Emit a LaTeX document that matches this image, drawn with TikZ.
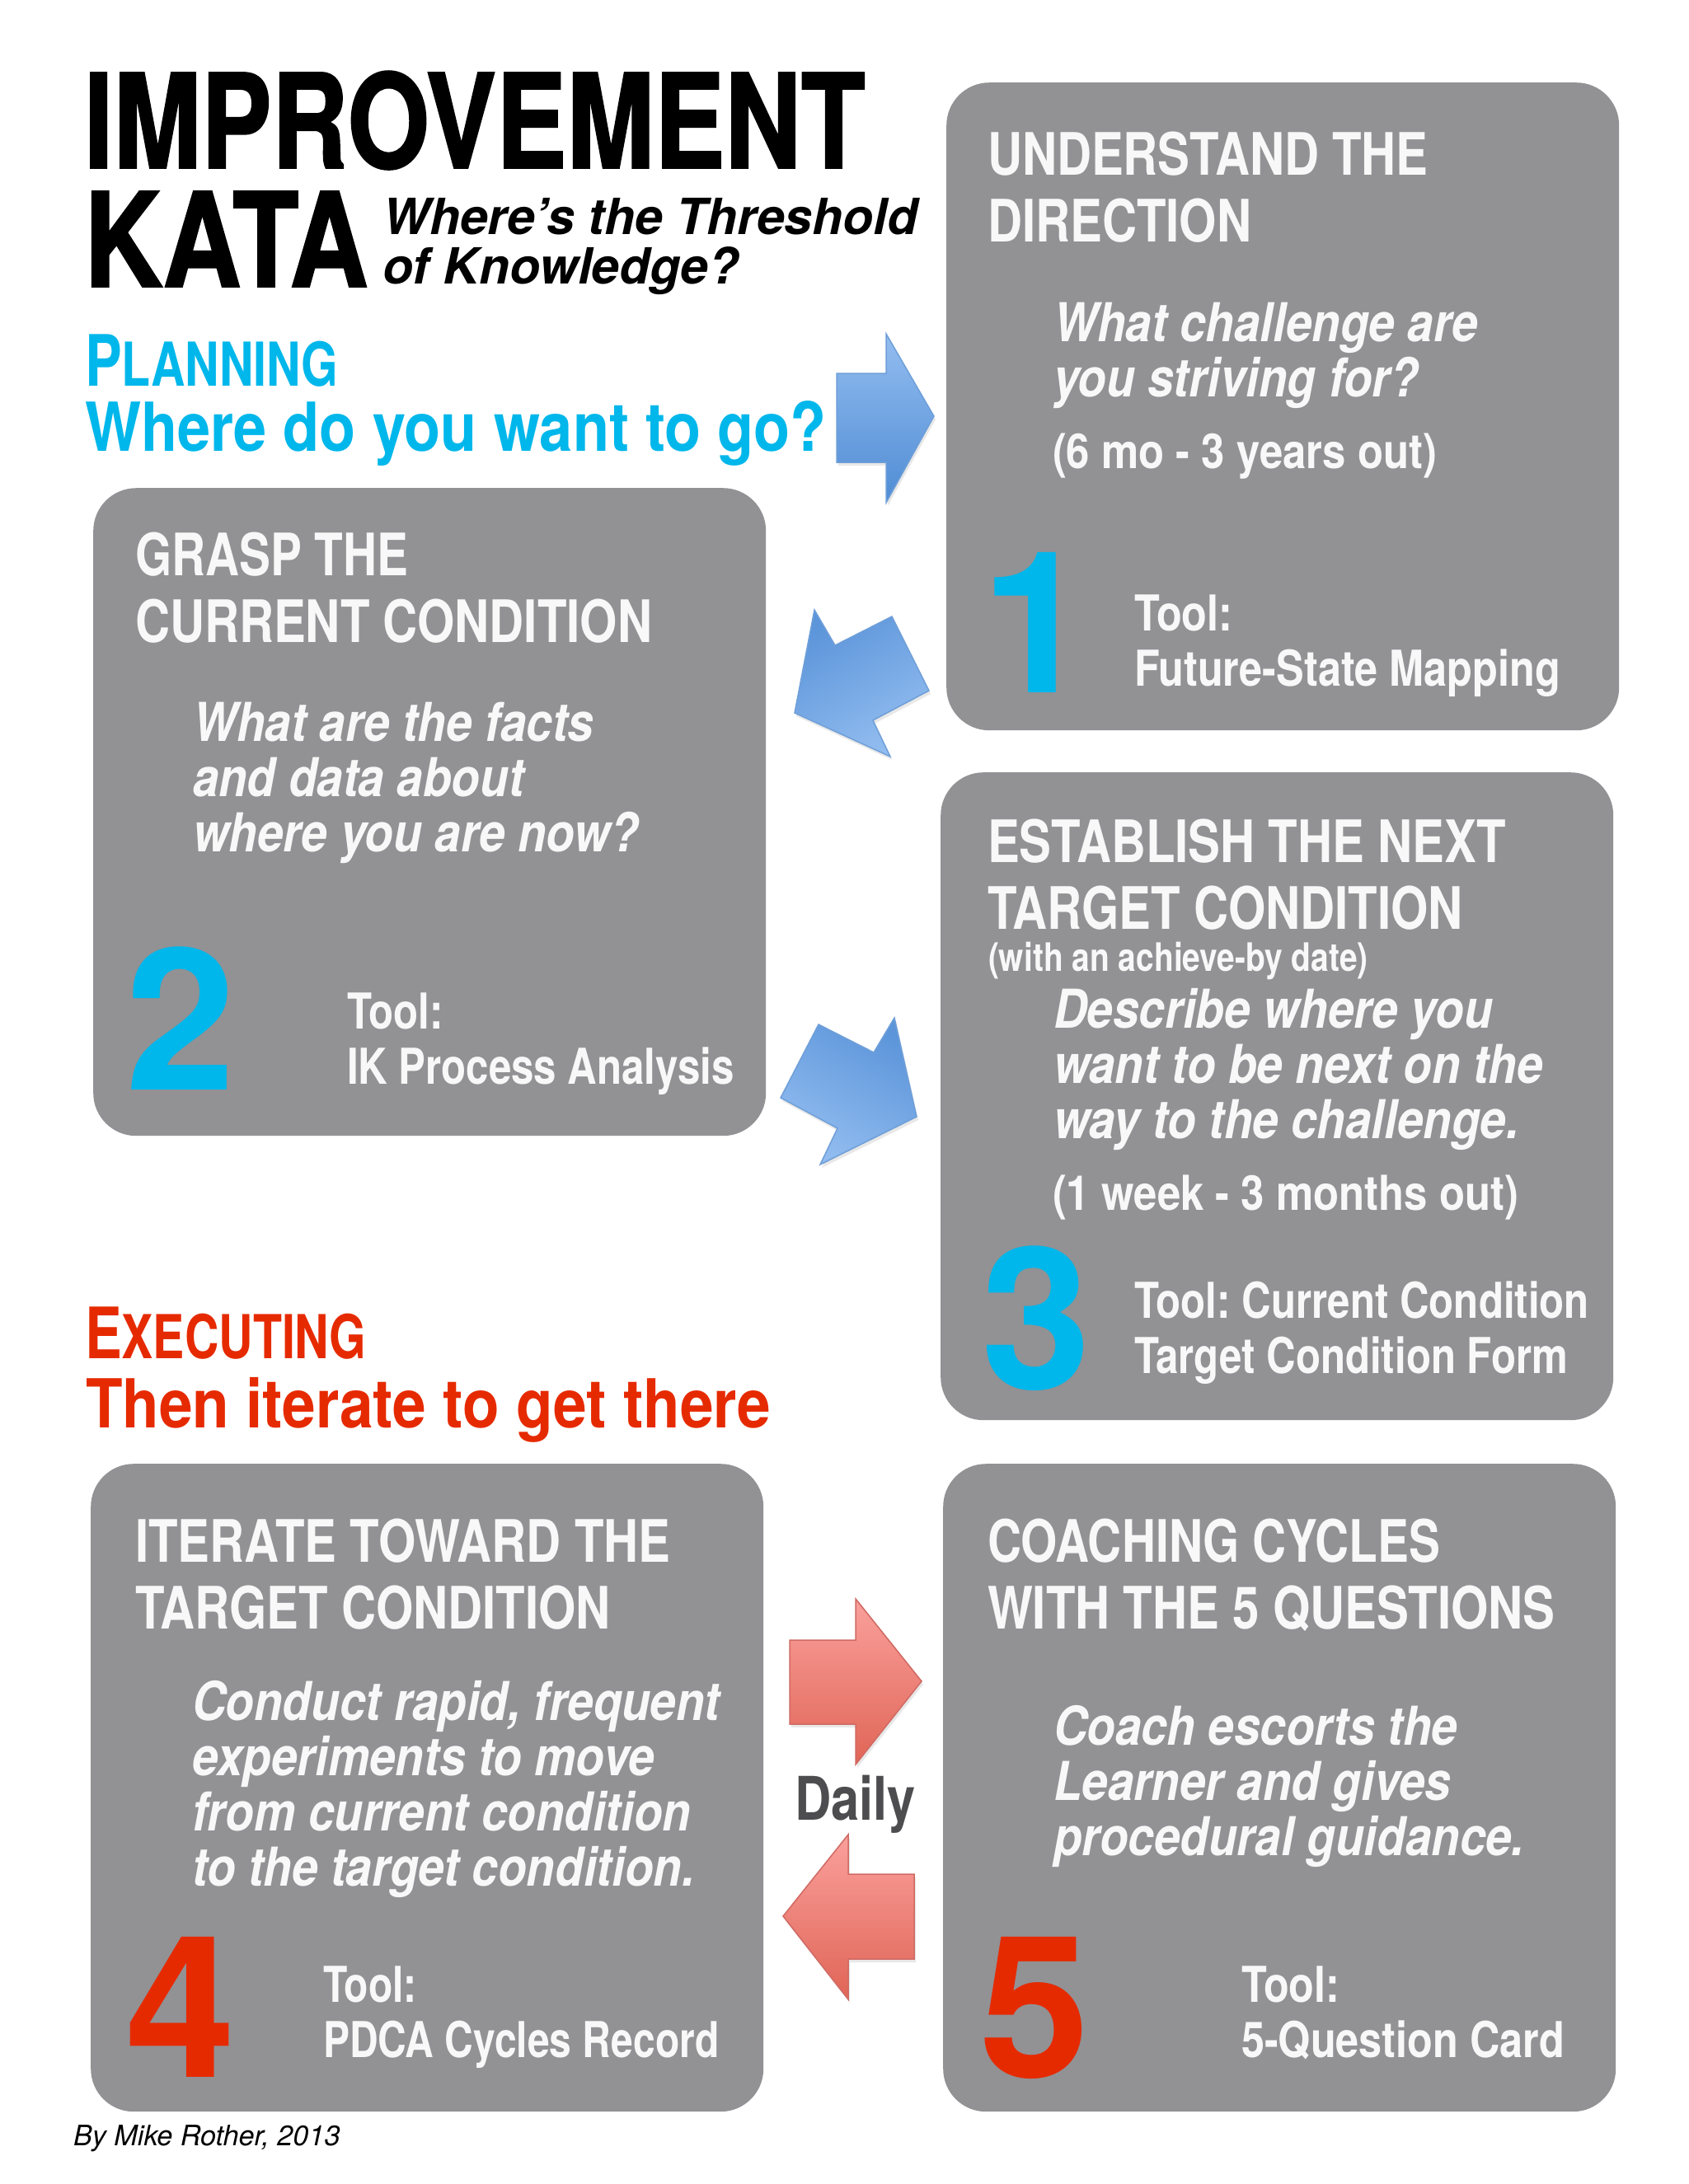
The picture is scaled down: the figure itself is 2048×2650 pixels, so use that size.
\documentclass[tikz,border=0pt]{standalone}
\usepackage{fontspec}
\usetikzlibrary{shadows}
\setmainfont{TeX Gyre Heros}
\newfontfamily\cnD[FakeStretch=0.78]{TeX Gyre Heros}
\newfontfamily\cnF[FakeStretch=0.80]{TeX Gyre Heros}
\newfontfamily\cnE[FakeStretch=0.82]{TeX Gyre Heros}
\newfontfamily\cnG[FakeStretch=0.84]{TeX Gyre Heros}
\newfontfamily\cnN[FakeStretch=0.87]{TeX Gyre Heros}
\newfontfamily\cnL[FakeStretch=0.88]{TeX Gyre Heros}
\newfontfamily\cnM[FakeStretch=0.89]{TeX Gyre Heros}
\newfontfamily\ttlf[FakeStretch=0.805,FakeBold=1.2]{TeX Gyre Heros}
\newfontfamily\ttlk[FakeStretch=0.83,FakeBold=1.2]{TeX Gyre Heros}
\definecolor{boxgray}{HTML}{929194}
\definecolor{kblue}{HTML}{00B7EB}
\definecolor{kred}{HTML}{E62A00}
\definecolor{dailygray}{HTML}{4D4D4F}
\definecolor{softwhite}{HTML}{F8F8F8}
\definecolor{blueLt}{HTML}{93BDF0}
\definecolor{blueDk}{HTML}{4F8CD4}
\definecolor{blueDkB}{HTML}{5C95DA}
\definecolor{blueEdge}{HTML}{6F9FD8}
\definecolor{redLt}{HTML}{FAA09C}
\definecolor{redDk}{HTML}{E06556}
\definecolor{redEdge}{HTML}{D06A64}
\tikzset{
  lbl/.style={anchor=base west,inner sep=0pt,outer sep=0pt,align=left},
  panel/.style={anchor=north west,fill=boxgray,rounded corners=52pt,minimum width=816pt,minimum height=786pt,inner sep=0pt},
  heading/.style={lbl,text=softwhite,font=\cnE\bfseries\fontsize{71}{81}\selectfont},
  question/.style={lbl,text=softwhite,font=\cnN\bfseries\itshape\fontsize{65}{67}\selectfont},
  horizon/.style={lbl,text=softwhite,font=\cnN\bfseries\fontsize{58.5}{67}\selectfont},
  toolnote/.style={lbl,text=softwhite,font=\cnE\bfseries\fontsize{60}{67}\selectfont},
  digit/.style={lbl,font=\bfseries\fontsize{240}{240}\selectfont},
  blockblue/.style={draw=blueEdge,line width=1.5pt,drop shadow={shadow xshift=2pt,shadow yshift=-4pt,opacity=.18}},
  blockred/.style={draw=redEdge,line width=1.5pt,top color=redLt,bottom color=redDk,drop shadow={shadow xshift=2pt,shadow yshift=-4pt,opacity=.18}}
}
\begin{document}
\begin{tikzpicture}[x=1pt,y=-1pt]
\useasboundingbox (0,0) rectangle (2048,2650);
\fill[white] (0,0) rectangle (2048,2650);
% panels
\node[panel] (p1) at (1148,100) {};
\node[panel] (p2) at (113,592) {};
\node[panel] (p3) at (1141,937) {};
\node[panel] (p4) at (110,1776) {};
\node[panel] (p5) at (1144,1776) {};
% title
\node[lbl,font=\ttlf\bfseries\fontsize{159}{159}\selectfont] (t1) at (102,204) {IMPROVEMENT};
\node[lbl,font=\ttlk\bfseries\fontsize{159}{159}\selectfont] (t2) at (102,348) {KATA};
\node[lbl,font=\bfseries\itshape\fontsize{60.5}{60}\selectfont] (t3) at (464,344) {Where’s the Threshold\\of Knowledge?};
% section heads
\node[lbl,text=kblue,font=\cnD\bfseries\fontsize{73.5}{73}\selectfont] (s1) at (103,468) {{\fontsize{86}{86}\selectfont P}LANNING};
\node[lbl,text=kblue,font=\cnL\bfseries\fontsize{82}{82}\selectfont] (s2) at (103,547) {Where do you want to go?};
\node[lbl,text=kred,font=\cnD\bfseries\fontsize{73.5}{73}\selectfont] (s3) at (103,1648) {{\fontsize{86}{86}\selectfont E}XECUTING};
\node[lbl,text=kred,font=\cnM\bfseries\fontsize{82}{82}\selectfont] (s4) at (104,1732) {Then iterate to get there};
% panel 1
\node[heading] (h1) at (1198,293) {UNDERSTAND THE\\DIRECTION};
\node[question] (q1) at (1278,481) {What challenge are\\you striving for?};
\node[horizon] (w1) at (1277,568) {(6 mo - 3 years out)};
\node[digit,text=kblue] (d1) at (1190,840) {1};
\node[toolnote,font=\cnG\bfseries\fontsize{60}{67}\selectfont] (n1) at (1376,832) {Tool:\\Future-State Mapping};
% panel 2
\node[heading] (h2) at (164,779) {{\cnF GRASP THE}\\CURRENT CONDITION};
\node[question] (q2) at (234,1033) {What are the facts\\and data about\\where you are now?};
\node[digit,text=kblue] (d2) at (152,1322) {2};
\node[toolnote] (n2) at (421,1315) {Tool:\\IK Process Analysis};
% panel 3
\node[heading] (h3) at (1198,1127) {ESTABLISH THE NEXT\\TARGET CONDITION};
\node[lbl,text=softwhite,font=\cnE\bfseries\fontsize{47.5}{47}\selectfont] (a3) at (1199,1178) {(with an achieve-by date)};
\node[question] (q3) at (1278,1381) {Describe where you\\want to be next on the\\way to the challenge.};
\node[horizon] (w3) at (1277,1468) {(1 week - 3 months out)};
\node[digit,text=kblue] (d3) at (1190,1685) {3};
\node[toolnote] (n3) at (1376,1666) {Tool:\hspace{-4pt} Current Condition\\Target Condition Form};
% panel 4
\node[heading] (h4) at (164,1976) {ITERATE TOWARD THE\\TARGET CONDITION};
\node[question] (q4) at (233,2288) {Conduct rapid, frequent\\experiments to move\\from current condition\\to the target condition.};
\node[digit,text=kred] (d4) at (152,2520) {4};
\node[toolnote,font=\cnF\bfseries\fontsize{60}{67}\selectfont] (n4) at (392,2496) {Tool:\\PDCA Cycles Record};
% panel 5
\node[heading] (h5) at (1198,1976) {{\cnF COACHING CYCLES}\\WITH THE 5 QUESTIONS};
\node[question] (q5) at (1278,2251) {Coach escorts the\\Learner and gives\\procedural guidance.};
\node[digit,text=kred] (d5) at (1188,2520) {5};
\node[toolnote,font=\cnG\bfseries\fontsize{60}{67}\selectfont] (n5) at (1506,2496) {Tool:\\5-Question Card};
% daily and credit
\node[lbl,text=dailygray,font=\cnG\bfseries\fontsize{73}{73}\selectfont] (daily) at (964,2208) {Daily};
\node[lbl,font=\itshape\fontsize{34.2}{34}\selectfont] (credit) at (89,2603) {By Mike Rother, 2013};
% block arrows
\path[blockblue,top color=blueLt,bottom color=blueDk]
  (1015,453) -- (1075,453) -- (1075,405) -- (1133,505) -- (1075,610) -- (1075,561) -- (1015,561) -- cycle;
\path[blockblue,top color=blueDkB,bottom color=blueLt,shading angle=30]
  (988,740) -- (1013,783) -- (1082,748) -- (1127,838) -- (1059,874) -- (1080,918) -- (964,865) -- cycle;
\path[blockblue,top color=blueDkB,bottom color=blueLt,shading angle=-30]
  (993,1243) -- (1060,1277) -- (1085,1235) -- (1112,1355) -- (995,1413) -- (1016,1369) -- (947,1332) -- cycle;
\path[blockred]
  (958,1990) -- (1038,1990) -- (1038,1940) -- (1118,2040) -- (1038,2141) -- (1038,2092) -- (958,2092) -- cycle;
\path[blockred]
  (1109,2274) -- (1029,2274) -- (1029,2226) -- (950,2325) -- (1029,2426) -- (1029,2377) -- (1109,2377) -- cycle;
\end{tikzpicture}
\end{document}
